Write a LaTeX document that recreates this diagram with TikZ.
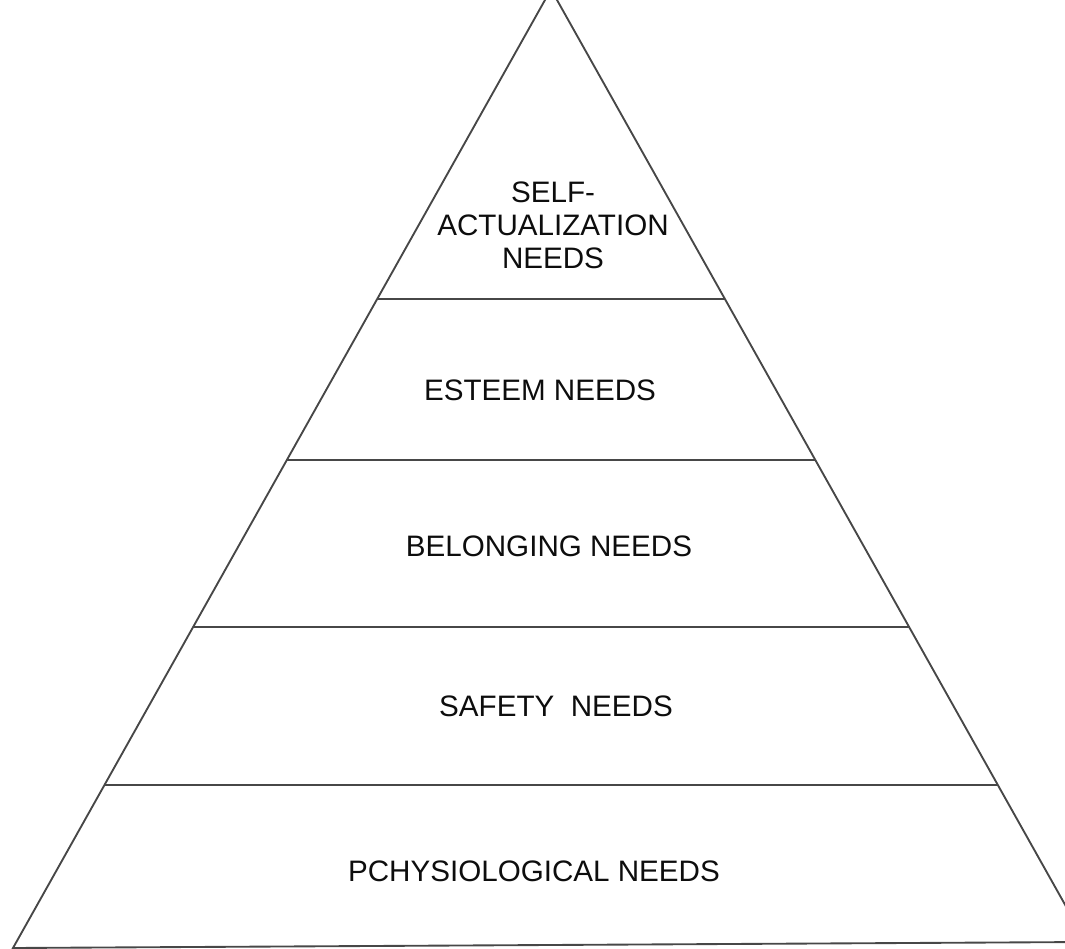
\documentclass[tikz,border=0pt]{standalone}
\usepackage{fontspec}
\setmainfont{Liberation Sans}
\usetikzlibrary{calc}
\begin{document}
\begin{tikzpicture}[x=0.75pt,y=-0.75pt,
  every node/.style={font=\fontsize{22.2}{24.75}\selectfont,text=black!95,inner sep=0pt,align=center},
  tierline/.style={draw=black!72,line width=1.4pt,line join=miter}]
  \useasboundingbox (0,0) rectangle (1065,949);
  \clip (0,0) rectangle (1065,949);
  \coordinate (apex) at (551,-10.7);
  \coordinate (bl) at (13,948);
  \coordinate (br) at (1086,942);
  \draw[tierline] (bl) -- (apex) -- (br) -- cycle;
  \foreach \lvl/\y in {1/299,2/460,3/627,4/785}{
    \coordinate (L\lvl) at ($(apex)!{(\y+10.7)/958.7}!(bl)$);
    \coordinate (R\lvl) at ($(apex)!{(\y+10.7)/952.7}!(br)$);
    \draw[tierline] (L\lvl) -- (R\lvl);
  }
  \node (self) at (553,225) {SELF-\\ACTUALIZATION\\NEEDS};
  \node (esteem) at (540,390) {ESTEEM NEEDS};
  \node (belong) at (549,546) {BELONGING NEEDS};
  \node (safety) at (556,706) {SAFETY\ \ NEEDS};
  \node (physio) at (534,871) {PCHYSIOLOGICAL NEEDS};
\end{tikzpicture}
\end{document}
